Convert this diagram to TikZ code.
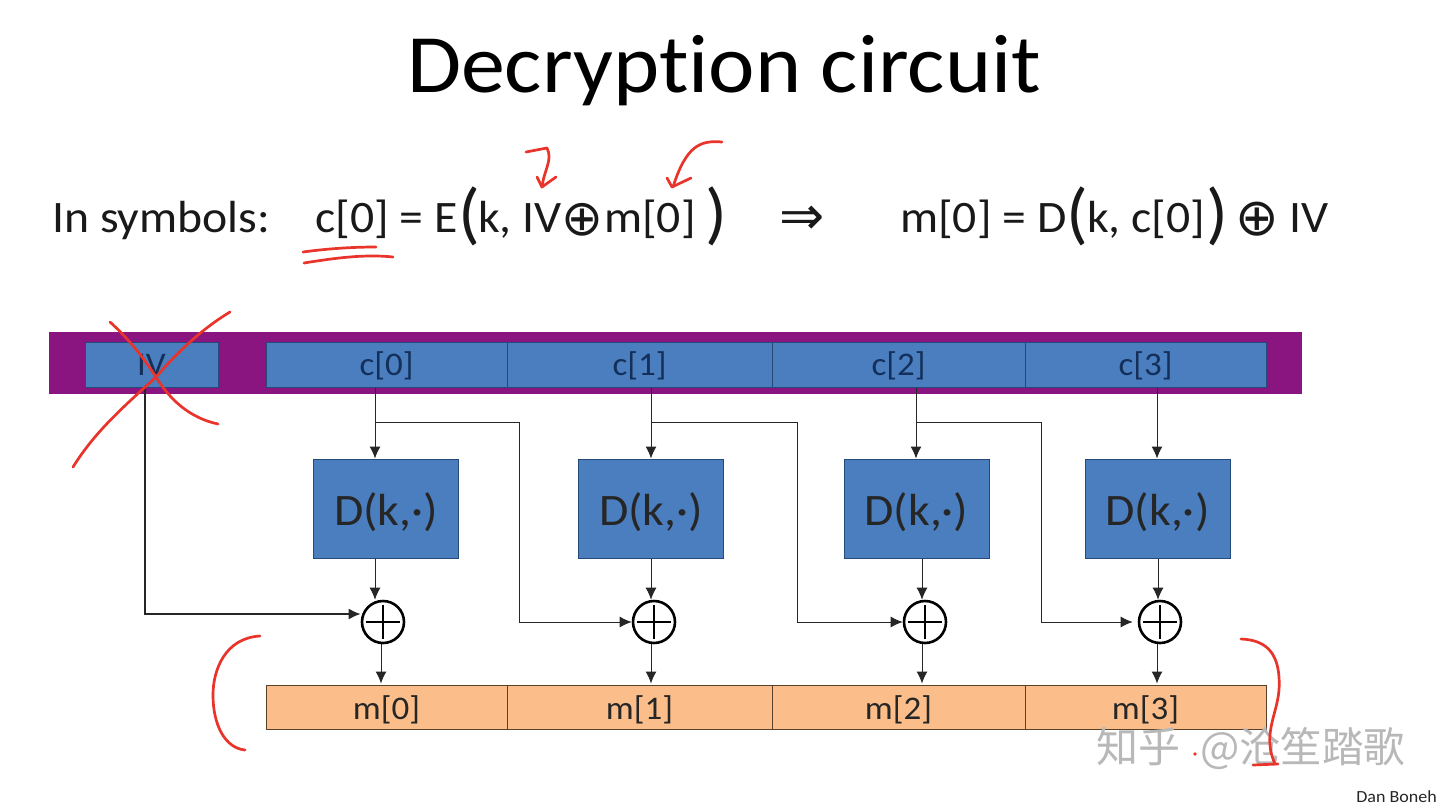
\documentclass[tikz,border=0pt]{standalone}
\usepackage{fontspec}
\setmainfont[FakeStretch=1.06,Ligatures=NoCommon]{Carlito}
\newfontfamily\symfont{DejaVu Sans}
\newfontfamily\cjkfont{Noto Sans CJK SC}
\usetikzlibrary{arrows.meta}
\definecolor{band}{HTML}{8A1580}
\definecolor{bluefill}{HTML}{4A7EBF}
\definecolor{blueedge}{HTML}{234A78}
\definecolor{orangefill}{HTML}{FBBE8A}
\definecolor{orangeedge}{HTML}{5A4028}
\definecolor{navytext}{HTML}{14305A}
\definecolor{inkred}{HTML}{E8342A}
\definecolor{wm}{HTML}{B8B8B8}
\tikzset{
 cellc/.style={draw=blueedge,fill=bluefill,line width=1pt,inner sep=0pt,minimum height=45pt,text height=25pt,text depth=4pt,text=navytext,font=\fontsize{33}{36}\selectfont},
 cellm/.style={draw=orangeedge,fill=orangefill,line width=1pt,inner sep=0pt,minimum height=44pt,text height=28pt,text depth=4pt,text=black!85,font=\fontsize{33}{36}\selectfont},
 dbox/.style={draw=blueedge,fill=bluefill,line width=1pt,inner sep=0pt,minimum width=145pt,minimum height=99pt,text height=40pt,text depth=6pt,text=black!85,font=\fontsize{45}{48}\selectfont},
 xorc/.style={circle,draw=black,line width=2.6pt,inner sep=0pt,minimum size=42pt,
   path picture={\draw[line width=2.4pt] ([yshift=-4pt]path picture bounding box.north) -- ([yshift=4pt]path picture bounding box.south)
     ([xshift=4pt]path picture bounding box.west) -- ([xshift=-4pt]path picture bounding box.east);}},
 conn/.style={draw=black!85,line width=1pt,-{Latex[length=12pt,width=11pt]}},
 eq/.style={anchor=base west,inner sep=0pt,font=\fontsize{45}{50}\selectfont,text=black!90},
 big/.style={anchor=base west,inner sep=0pt,font=\fontsize{68}{72}\selectfont,text=black!90},
 ink/.style={draw=inkred,line width=2.7pt,line cap=round,line join=round},
}
\begin{document}
\begin{tikzpicture}[x=1pt,y=-1pt]
\useasboundingbox (0,0) rectangle (1440,806);
\fill[white] (0,0) rectangle (1440,806);
\node[anchor=base,inner sep=0pt,font=\fontsize{83}{87}\selectfont,text=black] (title) at (724,92) {Decryption circuit};
% equations
\node[eq] (e1) at (52,232) {In symbols:};
\node[eq] (e2) at (315,232) {c[0] = E};
\node[big] (e3) at (458,236) {(};
\node[eq] (e4) at (478,232) {k, IV};
\node[eq,font=\fontsize{50}{54}\symfont] (e5) at (561,235) {⊕};
\node[eq] (e6) at (604,232) {m[0]};
\node[big] (e7) at (705,236) {)};
\node[eq,font=\fontsize{54}{58}\symfont] (e8) at (779,234) {⇒};
\node[eq] (e9) at (900,232) {m[0] = D};
\node[big] (e10) at (1066,236) {(};
\node[eq] (e11) at (1087,232) {k, c[0]};
\node[big] (e12) at (1206,236) {)};
\node[eq,font=\fontsize{52}{56}\symfont] (e13) at (1235,235) {⊕};
\node[eq] (e14) at (1289,232) {IV};
% band
\fill[band] (49,332) rectangle (1302,394);
\node[cellc,minimum width=133pt] (iv) at (151.5,364.5) {IV};
\node[cellc,minimum width=241pt] (c0) at (386.5,364.5) {c[0]};
\node[cellc,minimum width=265pt] (c1) at (639.5,364.5) {c[1]};
\node[cellc,minimum width=253pt] (c2) at (898.5,364.5) {c[2]};
\node[cellc,minimum width=241pt] (c3) at (1145.5,364.5) {c[3]};
\node[dbox] (d0) at (386,508.5) {D(k,·)};
\node[dbox] (d1) at (651,508.5) {D(k,·)};
\node[dbox] (d2) at (916.5,508.5) {D(k,·)};
\node[dbox] (d3) at (1157.5,508.5) {D(k,·)};
\node[xorc] (x0) at (383,622) {};
\node[xorc] (x1) at (654,622) {};
\node[xorc] (x2) at (925,622) {};
\node[xorc] (x3) at (1160,622) {};
\node[cellm,minimum width=241pt] (m0) at (386.5,707) {m[0]};
\node[cellm,minimum width=265pt] (m1) at (639.5,707) {m[1]};
\node[cellm,minimum width=253pt] (m2) at (898.5,707) {m[2]};
\node[cellm,minimum width=241pt] (m3) at (1145.5,707) {m[3]};
% helper coordinates
\coordinate (a0) at (375,422);
\coordinate (a1) at (651,422);
\coordinate (a2) at (916,422);
\coordinate (a3) at (1157,422);
\coordinate (t1) at (519,422);
\coordinate (t2) at (797,422);
\coordinate (t3) at (1041,422);
\coordinate (ivx) at (145,614);
\coordinate (b0) at (375,600);
\coordinate (b1) at (651,600);
\coordinate (b2) at (922,600);
\coordinate (b3) at (1158,600);
\coordinate (o0) at (381,660);
\coordinate (o1) at (651,660);
\coordinate (o2) at (922,660);
\coordinate (o3) at (1157,660);
% connectors
\draw[conn] (c0.south -| a0) -- (d0.north -| a0);
\draw[conn] (c1.south -| a1) -- (d1.north -| a1);
\draw[conn] (c2.south -| a2) -- (d2.north -| a2);
\draw[conn] (c3.south -| a3) -- (d3.north -| a3);
\draw[conn] (a0) -| (t1) |- (x1.west);
\draw[conn] (a1) -| (t2) |- (x2.west);
\draw[conn] (a2) -| (t3) |- ([xshift=-5pt]x3.west);
\draw[conn,line width=1.9pt] (iv.south -| ivx) |- ([yshift=8pt]x0.west);
\draw[conn] (d0.south -| b0) -- (x0.north -| b0);
\draw[conn] (d1.south -| b1) -- (x1.north -| b1);
\draw[conn] (d2.south -| b2) -- (x2.north -| b2);
\draw[conn] (d3.south -| b3) -- (x3.north -| b3);
\draw[conn] (x0.south -| o0) -- ([yshift=1pt]m0.north -| o0);
\draw[conn] (x1.south -| o1) -- ([yshift=1pt]m1.north -| o1);
\draw[conn] (x2.south -| o2) -- ([yshift=1pt]m2.north -| o2);
\draw[conn] (x3.south -| o3) -- ([yshift=1pt]m3.north -| o3);
% watermark
\node[anchor=base west,inner sep=0pt,text=wm,font=\fontsize{42}{46}\cjkfont] (wma) at (1096,762) {知乎};
\node[anchor=base west,inner sep=0pt,text=wm,font=\fontsize{41.5}{45}\cjkfont] (wmb) at (1200,762) {@沧笙踏歌};
\node[anchor=base east,inner sep=0pt,font=\fontsize{17}{19}\selectfont,text=black!85] (author) at (1437,802) {Dan Boneh};
% red ink
\draw[ink] (73,467) .. controls (95,432) and (120,410) .. (156,377) .. controls (175,355) and (200,330) .. (230,312);
\draw[ink] (110,322) .. controls (130,340) and (145,360) .. (156,377) .. controls (170,400) and (190,418) .. (218,424);
\draw[ink] (303,252) .. controls (325,249) and (350,247) .. (376,247);
\draw[ink] (304,263) .. controls (335,258) and (365,254) .. (393,257);
\draw[ink] (526,152) -- (547,148) .. controls (553,160) and (544,170) .. (542,187);
\draw[ink] (537,177) -- (542,187) -- (556,177);
\draw[ink] (722,142) .. controls (700,140) and (686,146) .. (673,187);
\draw[ink] (667,178) -- (672,187) -- (691,178);
\draw[ink] (260,636) .. controls (225,638) and (213,670) .. (213,695) .. controls (213,725) and (225,748) .. (245,750);
\draw[ink] (1241,639) .. controls (1268,640) and (1281,655) .. (1279,690) .. controls (1277,715) and (1262,735) .. (1275,764);
\draw[ink] (1253,765) -- (1278,764);
\fill[inkred] (1195,754) circle (1.8pt);
\end{tikzpicture}
\end{document}
